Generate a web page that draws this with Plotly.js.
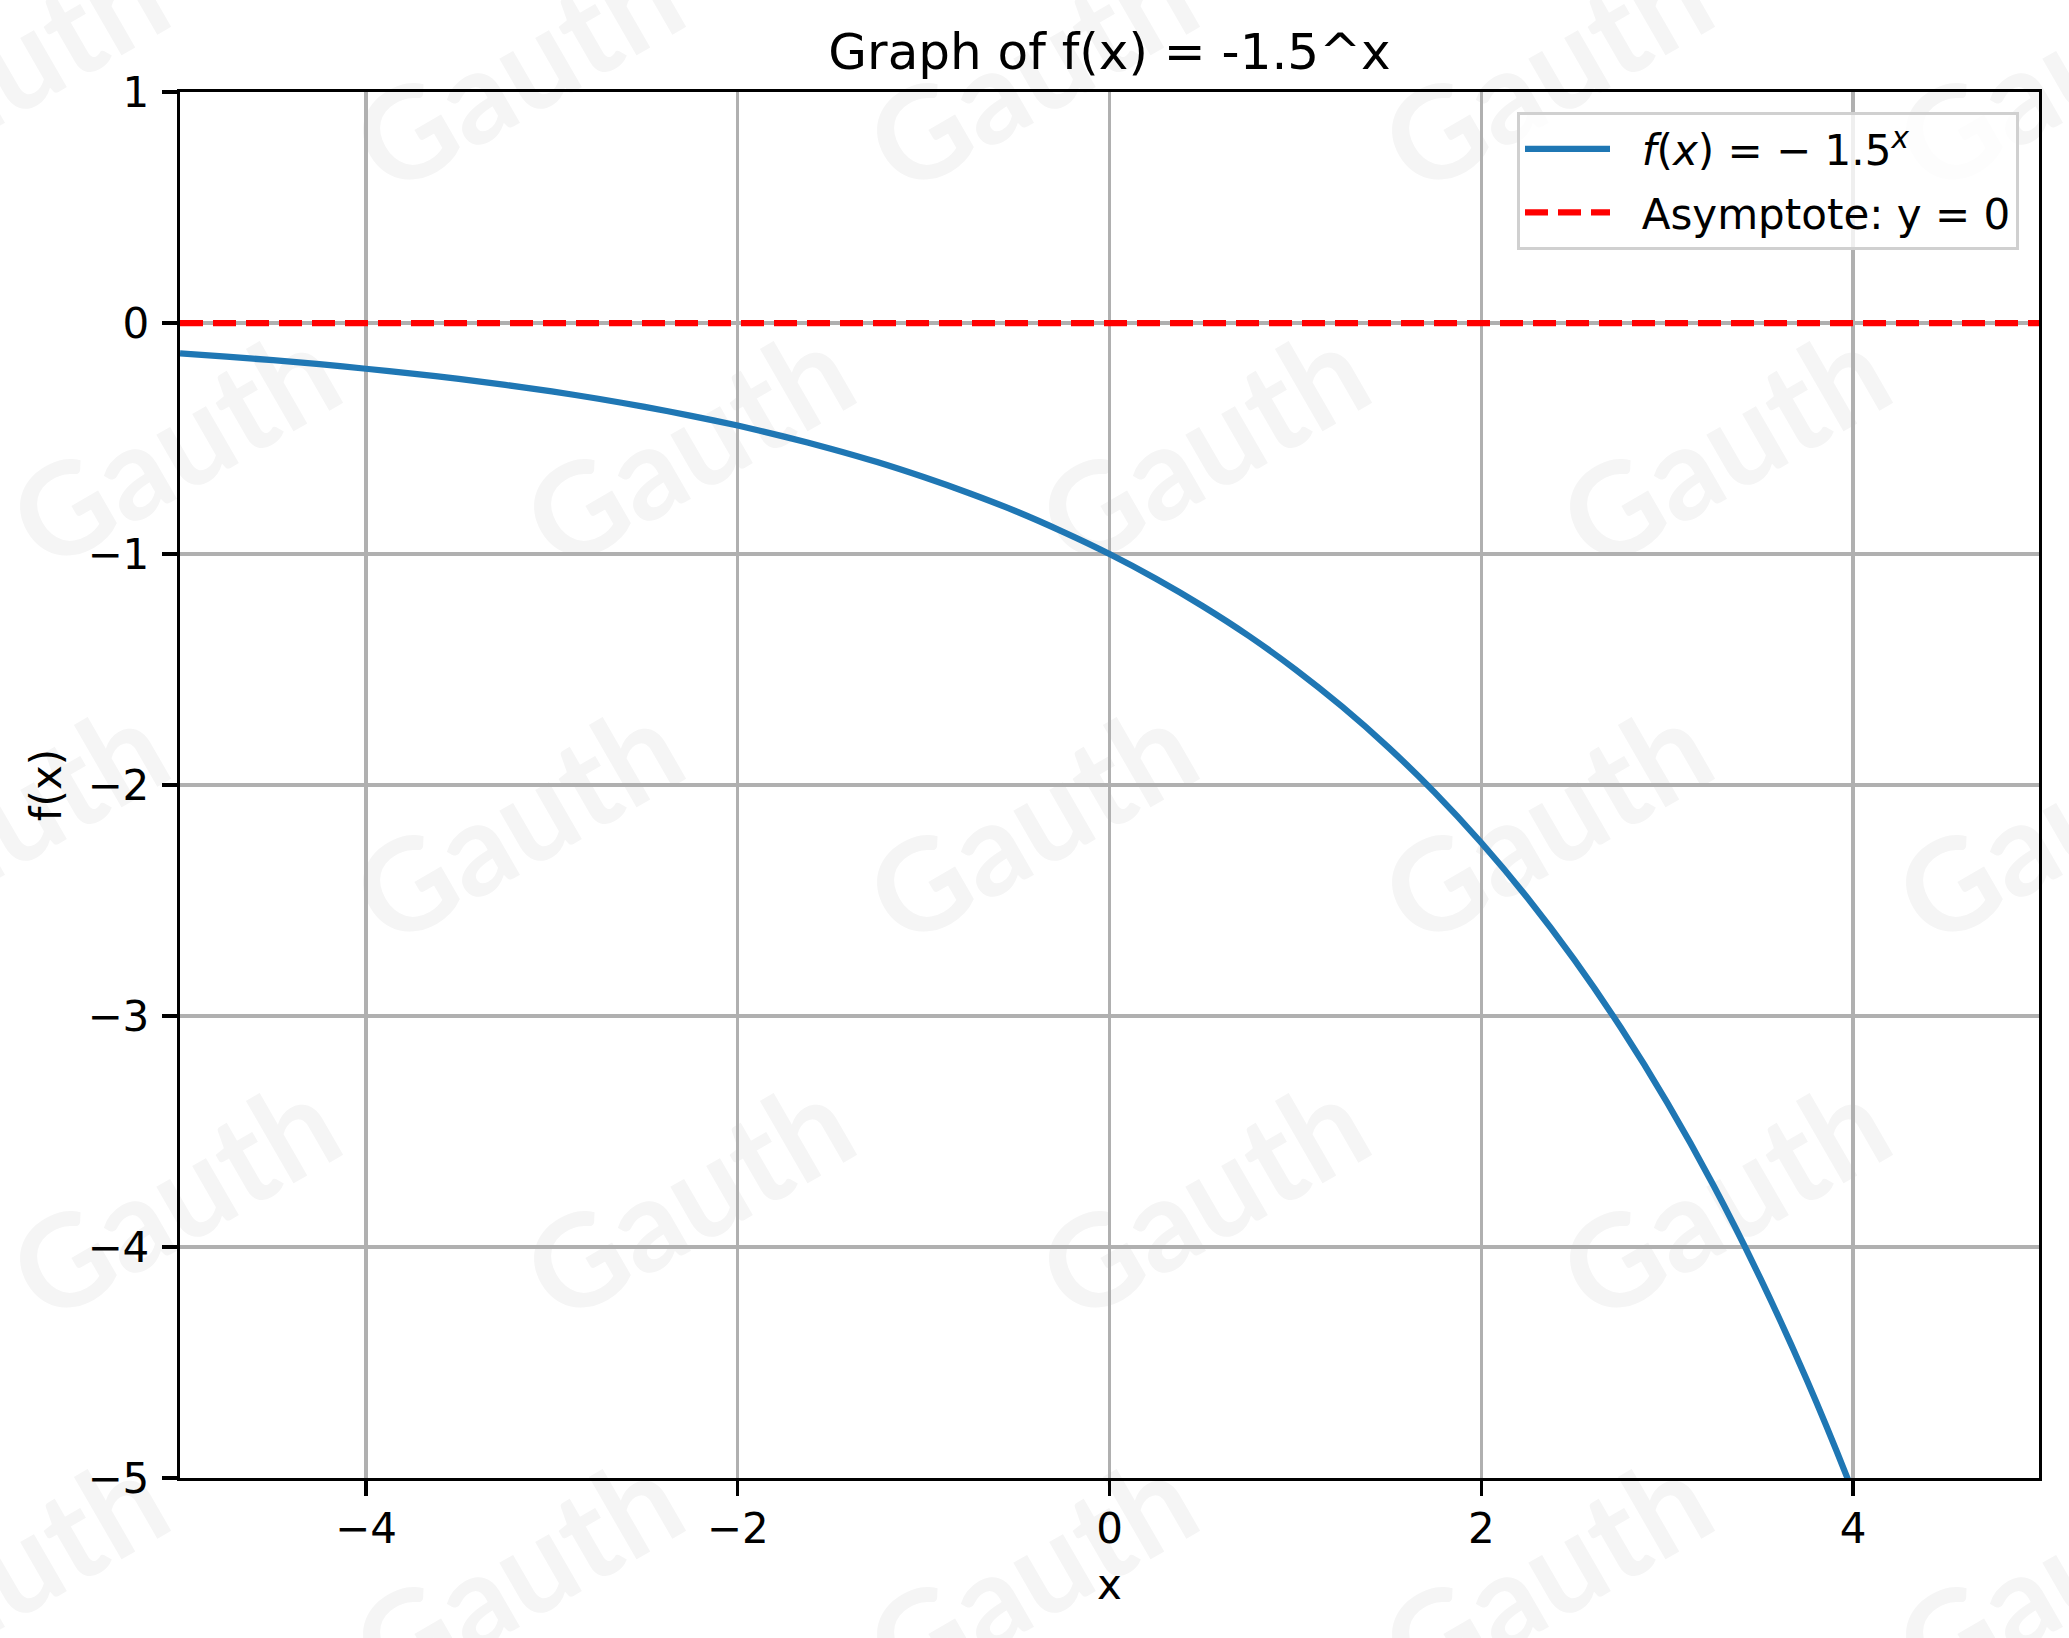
<!DOCTYPE html>
<html>
<head>
<meta charset="utf-8">
<script src="https://cdn.plot.ly/plotly-3.0.1.min.js"></script>
<style>
html,body{margin:0;padding:0;background:#fff;}
#chart{width:2069px;height:1638px;}
</style>
</head>
<body>
<div id="chart"></div>
<script>
// ---- data ----
var xValues = [-5,-4.75,-4.5,-4.25,-4,-3.75,-3.5,-3.25,-3,-2.75,-2.5,-2.25,-2,-1.75,-1.5,-1.25,-1,-0.75,-0.5,-0.25,0,0.25,0.5,0.75,1,1.25,1.5,1.75,2,2.25,2.5,2.75,3,3.25,3.5,3.75,4,4.25,4.5];
var fValues = [-0.132,-0.146,-0.161,-0.178,-0.198,-0.219,-0.242,-0.268,-0.296,-0.328,-0.363,-0.402,-0.444,-0.492,-0.544,-0.602,-0.667,-0.738,-0.816,-0.904,-1.000,-1.107,-1.225,-1.355,-1.500,-1.660,-1.837,-2.033,-2.250,-2.490,-2.756,-3.050,-3.375,-3.735,-4.134,-4.574,-5.063,-5.603,-6.200];
var asymX = [-5, 5];
var asymY = [0, 0];
var xTicks = [-4, -2, 0, 2, 4];
var yTicks = [-5, -4, -3, -2, -1, 0, 1];
var seriesNames = ['<i>f</i>(<i>x</i>) = − 1.5<sup><i>x</i></sup>', 'Asymptote: y = 0'];
var titleText = 'Graph of f(x) = -1.5^x';
var xLabel = 'x';
var yLabel = 'f(x)';
var watermarkText = 'Gauth';

// ---- layout helpers ----
var W = 2069, H = 1638;
var L = 180, R = 2039, T = 92, B = 1478;
var pw = R - L, ph = B - T;
function px2x(p){ return (p - L) / pw; }
function px2y(p){ return (B - p) / ph; }
var legendGap = '\u00a0\u00a0';

// watermark centres in page pixels
var wmRowsA = [66, 818, 1570];
var wmRowsB = [442, 1194];
var wmColsA = [0, 515, 1029, 1544, 2058];
var wmColsB = [172, 686, 1201, 1722];
var shapes = [];
function addWm(cx, cy){
  var x = px2x(cx), y = px2y(cy);
  shapes.push({
    type: 'rect', xref: 'paper', yref: 'paper', layer: 'below',
    x0: x - 0.001, x1: x + 0.001, y0: y - 0.001, y1: y + 0.001,
    line: {width: 0}, fillcolor: 'rgba(0,0,0,0)',
    label: {text: watermarkText, textangle: -30, textposition: 'middle center',
            font: {family: 'Lato', size: 128, color: '#f5f5f5', weight: 700}}
  });
}
wmRowsA.forEach(function(cy){ wmColsA.forEach(function(cx){ addWm(cx, cy); }); });
wmRowsB.forEach(function(cy){ wmColsB.forEach(function(cx){ addWm(cx, cy); }); });

var font = 'DejaVu Sans, sans-serif';

var traces = [
  {x: xValues, y: fValues, mode: 'lines', name: legendGap + seriesNames[0], legendgroup: 'g1',
   line: {color: '#1f77b4', width: 6.25, shape: 'spline', smoothing: 0.6}},
  {x: asymX, y: asymY, mode: 'lines', name: legendGap + seriesNames[1], legendgroup: 'g2',
   line: {color: '#ff0000', width: 6.25, dash: '23px,10px'}}
];

var axisCommon = {
  showgrid: true, gridcolor: '#b0b0b0', gridwidth: 3.3,
  showline: true, linecolor: '#000', linewidth: 3.3, mirror: true,
  ticks: 'outside', ticklen: 15, tickwidth: 3.3, tickcolor: '#000',
  zeroline: false, tickfont: {family: font, size: 42, color: '#000'},
  fixedrange: true
};

var layout = {
  width: W, height: H,
  margin: {l: L, r: W - R, t: T, b: H - B, pad: 0},
  paper_bgcolor: '#fff', plot_bgcolor: '#fff',
  title: {text: titleText, font: {family: font, size: 50, color: '#000'},
          x: 0.5, xref: 'paper', xanchor: 'center',
          y: 1, yref: 'paper', yanchor: 'bottom', pad: {b: 23}},
  xaxis: Object.assign({}, axisCommon, {
    range: [-5, 5], tickmode: 'array', tickvals: xTicks,
    ticklabelstandoff: -4,
    title: {text: xLabel, font: {family: font, size: 42, color: '#000'}, standoff: 19}
  }),
  yaxis: Object.assign({}, axisCommon, {
    range: [-5, 1], tickmode: 'array', tickvals: yTicks,
    ticklabelstandoff: 4,
    title: {text: yLabel, font: {family: font, size: 42, color: '#000'}, standoff: 13}
  }),
  showlegend: true,
  legend: {x: px2x(2019), y: px2y(112), xanchor: 'right', yanchor: 'top',
           bgcolor: 'rgba(255,255,255,0.8)', bordercolor: '#d0d0d0', borderwidth: 3,
           font: {family: font, size: 42, color: '#000'}, itemwidth: 85,
           tracegroupgap: 6},
  shapes: shapes
};

Plotly.newPlot('chart', traces, layout, {displayModeBar: false, staticPlot: true});
</script>
</body>
</html>
